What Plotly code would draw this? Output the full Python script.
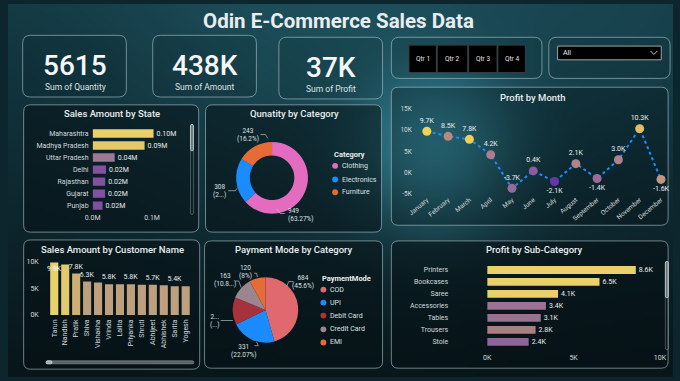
import base64, struct, zlib
import numpy as np
import plotly.graph_objects as go

W, H = 680, 381
FONT = "Roboto"
TXT = "#E9EDEF"
TICK = "#D2D9DC"

# ---------------- DATA ----------------
title = "Odin E-Commerce Sales Data"
kpi_values = [5615, 437771, 36963]
kpi_labels = ["Sum of Quantity", "Sum of Amount", "Sum of Profit"]
qtr_labels = ["Qtr 1", "Qtr 2", "Qtr 3", "Qtr 4"]
dropdown_value = "All"

states = ["Maharashtra", "Madhya Pradesh", "Uttar Pradesh", "Delhi", "Rajasthan", "Gujarat", "Punjab"]
state_amount = [102498, 87463, 37208, 22531, 21149, 21058, 16786]

categories = ["Clothing", "Electronics", "Furniture"]
category_qty = [949, 308, 243]

months = ["January", "February", "March", "April", "May", "June", "July",
          "August", "September", "October", "November", "December"]
month_profit = [9700, 8500, 7800, 4200, -3700, 400, -2100, 2100, -1400, 3000, 10300, -1600]

customers = ["Tarun", "Nandish", "Pratik", "Shiva", "Vishakha", "Vrinda", "Lalita",
             "Priyanka", "Shruti", "Abhijeet", "Abhishek", "Sarita", "Yogesh"]
customer_amount = [9900, 9500, 7800, 6300, 6100, 5800, 5800, 5800, 5700, 5700, 5600, 5400, 5400]

pay_modes = ["COD", "UPI", "Debit Card", "Credit Card", "EMI"]
pay_qty = [684, 331, 202, 163, 120]

subcats = ["Printers", "Bookcases", "Saree", "Accessories", "Tables", "Trousers", "Stole"]
subcat_profit = [8600, 6500, 4100, 3400, 3100, 2800, 2400]

# ---------------- STYLES ----------------
state_colors = ["#E9D06B", "#E3C86C", "#9B7A94", "#80529F", "#80529F", "#80529F", "#7E519F"]
cat_colors = ["#E36CC0", "#1A8CFF", "#E66C37"]
month_colors = ["#F2D24E", "#B88A7F", "#F0D052", "#AE7D8C", "#976B97", "#8C5BA0", "#6C32A9",
                "#B2838F", "#9C6B9C", "#AF7F92", "#DFBE64", "#C29482"]
month_textpos = ["top center"] * 6 + ["bottom center", "top center", "bottom center",
                                      "top center", "top center", "bottom center"]
cust_colors = ["#E8D26C", "#E0C96E", "#CDAE72"] + ["#BEA07F"] * 10
cust_label_shown = [True, False, True, True, False, True, False, True, False, True, False, True, False]
cust_textpos = ["inside"] + ["outside"] * 12
pay_colors = ["#E0686F", "#1A8CFF", "#A8323C", "#9C8590", "#E66C37"]
sub_colors = ["#E9D06B", "#E9D06B", "#E9D06B", "#9C7394", "#9A7191", "#A98080", "#8E6598"]
# label truncation (chars kept of value / percent; None = full) as Power BI clipped them
cat_trunc = [(None, None), (None, 1), (None, None)]
pay_trunc = [(None, None), (None, None), (1, 0), (None, 4), (None, None)]


def X(x):
    return x / W


def Y(y):
    return 1 - y / H


# ---------------- BACKGROUND IMAGE ----------------
bw, bh = 170, 96
ys, xs = np.mgrid[0:bh, 0:bw]
PX = (xs + 0.5) * W / bw
PY = (ys + 0.5) * H / bh
t = np.clip(PY / H, 0, 1)[..., None]
top = np.array([19, 56, 66], float)
bot = np.array([8, 21, 26], float)
img = top * (1 - t) + bot * t


def glow(cx, cy, r, col):
    d2 = ((PX - cx) ** 2 + (PY - cy) ** 2) / r ** 2
    return np.exp(-d2)[..., None] * np.array(col, float)


img += glow(330, 40, 230, [10, 24, 26])
img += glow(440, 150, 80, [30, 72, 80])
img += glow(640, 60, 120, [4, 10, 12])
img = np.clip(img, 0, 255).astype(np.uint8)


def png_uri(arr):
    h, w, _ = arr.shape
    raw = b"".join(b"\x00" + arr[i].tobytes() for i in range(h))

    def chunk(tag, data):
        c = struct.pack(">I", len(data)) + tag + data
        return c + struct.pack(">I", zlib.crc32(tag + data) & 0xFFFFFFFF)

    png = (b"\x89PNG\r\n\x1a\n" + chunk(b"IHDR", struct.pack(">IIBBBBB", w, h, 8, 2, 0, 0, 0))
           + chunk(b"IDAT", zlib.compress(raw, 9)) + chunk(b"IEND", b""))
    return "data:image/png;base64," + base64.b64encode(png).decode()


fig = go.Figure()

# ---------------- STATE BARS ----------------
fig.add_trace(go.Bar(
    x=state_amount, y=states, orientation="h", width=0.7,
    marker=dict(color=state_colors, line=dict(width=0)),
    text=[f"{v/1e6:.2f}M" for v in state_amount], textposition="outside",
    textfont=dict(size=7, color=TXT, family=FONT), constraintext="none",
    cliponaxis=False, hoverinfo="skip", xaxis="x", yaxis="y"))

# ---------------- DONUT ----------------
cx1, cy1, r1 = 270, 177.5, 36.7
fig.add_trace(go.Pie(
    labels=categories, values=category_qty, hole=0.62, sort=False, direction="clockwise",
    rotation=0, marker=dict(colors=cat_colors, line=dict(width=0)), textinfo="none",
    hoverinfo="skip", showlegend=False,
    domain=dict(x=[X(cx1 - r1), X(cx1 + r1)], y=[Y(cy1 + r1), Y(cy1 - r1)])))

# ---------------- PROFIT BY MONTH ----------------
fig.add_trace(go.Scatter(
    x=months, y=month_profit, mode="lines+markers+text",
    line=dict(color="#1A8CFF", width=2, dash="dot"),
    marker=dict(size=9, color=month_colors, line=dict(width=0)),
    text=[f"{v/1000:.1f}K" for v in month_profit], textposition=month_textpos,
    textfont=dict(size=7, color=TXT, family=FONT), cliponaxis=False,
    hoverinfo="skip", xaxis="x3", yaxis="y3"))

# ---------------- CUSTOMER BARS ----------------
fig.add_trace(go.Bar(
    x=customers, y=customer_amount, width=0.74,
    marker=dict(color=cust_colors, line=dict(width=0)),
    text=[f"{v/1000:.1f}K" if s else "" for v, s in zip(customer_amount, cust_label_shown)],
    textposition=cust_textpos, insidetextanchor="end", textangle=0,
    textfont=dict(size=7, color=TXT, family=FONT),
    insidetextfont=dict(size=7, color="#FFFFFF", family=FONT),
    outsidetextfont=dict(size=7, color=TXT, family=FONT),
    constraintext="none", cliponaxis=False, hoverinfo="skip", xaxis="x4", yaxis="y4"))

# ---------------- PAYMENT PIE ----------------
cx2, cy2, r2 = 263.3, 312.5, 33.5
fig.add_trace(go.Pie(
    labels=pay_modes, values=pay_qty, sort=False, direction="clockwise", rotation=0,
    marker=dict(colors=pay_colors, line=dict(width=0)), textinfo="none",
    hoverinfo="skip", showlegend=False,
    domain=dict(x=[X(cx2 - r2), X(cx2 + r2)], y=[Y(cy2 + r2), Y(cy2 - r2)])))

# ---------------- SUB-CATEGORY BARS ----------------
fig.add_trace(go.Bar(
    x=subcat_profit, y=subcats, orientation="h", width=0.65,
    marker=dict(color=sub_colors, line=dict(width=0)),
    text=[f"{v/1000:.1f}K" for v in subcat_profit], textposition="outside",
    textfont=dict(size=7, color=TXT, family=FONT), constraintext="none",
    cliponaxis=False, hoverinfo="skip", xaxis="x5", yaxis="y5"))

# ---------------- AXES ----------------
base_ax = dict(showgrid=False, zeroline=False, showline=False, ticks="",
               tickfont=dict(size=7, color=TICK, family=FONT), fixedrange=True)

s0, s1, sR = 86.5, 147.3, 160
state_xmax = (sR - s0) / (s1 - s0) * 100000
sy_top, sy_step = 132.3, 12.28
fig.update_layout(
    xaxis=dict(base_ax, domain=[X(s0), X(sR)], range=[0, state_xmax], anchor="y",
               tickvals=[0, 100000], ticktext=["0.0M", "0.1M"]),
    yaxis=dict(base_ax, domain=[Y(sy_top + 6.5 * sy_step), Y(sy_top - 0.5 * sy_step)],
               type="category", categoryorder="array", categoryarray=states,
               range=[6.5, -0.5], anchor="x", ticklabelstandoff=3),
)

m_first, m_last = 428.3, 667.7
m_step = (m_last - m_first) / 11
mL, mR = 417, 674
zero_y, px_per_k = 172.2, 4.357
fig.update_layout(
    xaxis3=dict(base_ax, domain=[X(mL), X(mR)], type="category",
                range=[-(m_first - mL) / m_step, 11 + (mR - m_last) / m_step],
                anchor="y3", tickangle=-40, tickfont=dict(size=6.5, color=TICK, family=FONT)),
    yaxis3=dict(base_ax, domain=[Y(zero_y + 5 * px_per_k), Y(zero_y - 15 * px_per_k)],
                range=[-5000, 15000], anchor="x3", tickvals=[-5000, 0, 5000, 10000, 15000],
                ticktext=["-5K", "0K", "5K", "10K", "15K"],
                tickfont=dict(size=6.5, color=TICK, family=FONT), ticklabelstandoff=3),
)

c_first, c_last = 47.3, 181.7
c_step = (c_last - c_first) / 12
c_zero, c_pxk = 317.7, 5.43
fig.update_layout(
    xaxis4=dict(base_ax, domain=[X(c_first - c_step / 2), X(c_last + c_step / 2)],
                type="category", range=[-0.5, 12.5], anchor="y4", tickangle=-90,
                ticklabelstandoff=2),
    yaxis4=dict(base_ax, domain=[Y(c_zero), Y(c_zero - 10.6 * c_pxk)], range=[0, 10600],
                anchor="x4", tickvals=[0, 5000, 10000], ticktext=["0K", "5K", "10K"],
                ticklabelstandoff=9),
)

b0, b10 = 490, 666.7
by_top, by_step = 271.7, 12.22
fig.update_layout(
    xaxis5=dict(base_ax, domain=[X(b0), X(b10)], range=[0, 10000], anchor="y5",
                tickvals=[0, 5000, 10000], ticktext=["0K", "5K", "10K"], ticklabelstandoff=4),
    yaxis5=dict(base_ax, domain=[Y(by_top + 6.5 * by_step), Y(by_top - 0.5 * by_step)],
                type="category", categoryorder="array", categoryarray=subcats,
                range=[6.5, -0.5], anchor="x5", ticklabelstandoff=38),
)

# ---------------- SHAPES ----------------
shapes = []


def rrect(x0, y0, x1, y1, r, line="rgba(175,198,204,0.6)", fill="rgba(0,0,0,0)", lw=1, layer="below"):
    p = (f"M {X(x0+r)},{Y(y0)} L {X(x1-r)},{Y(y0)} Q {X(x1)},{Y(y0)} {X(x1)},{Y(y0+r)} "
         f"L {X(x1)},{Y(y1-r)} Q {X(x1)},{Y(y1)} {X(x1-r)},{Y(y1)} L {X(x0+r)},{Y(y1)} "
         f"Q {X(x0)},{Y(y1)} {X(x0)},{Y(y1-r)} L {X(x0)},{Y(y0+r)} Q {X(x0)},{Y(y0)} {X(x0+r)},{Y(y0)} Z")
    shapes.append(dict(type="path", path=p, xref="paper", yref="paper",
                       line=dict(color=line, width=lw), fillcolor=fill, layer=layer))


def seg(points, color="rgba(200,205,208,0.8)", width=0.8):
    p = "M " + " L ".join(f"{X(a)},{Y(b)}" for a, b in points)
    shapes.append(dict(type="path", path=p, xref="paper", yref="paper",
                       line=dict(color=color, width=width), layer="above"))


def dot(x, y, r, color):
    shapes.append(dict(type="circle", xref="paper", yref="paper", x0=X(x - r), x1=X(x + r),
                       y0=Y(y + r), y1=Y(y - r), fillcolor=color, line=dict(width=0), layer="above"))


panel_fill = "rgba(4,14,18,0.5)"
kpi_fill = "rgba(4,14,18,0.12)"
for box in [(15, 32, 121, 95), (148, 32, 254, 95), (277, 34, 383, 97)]:
    rrect(*box, 8, fill=kpi_fill)
rrect(392, 34, 546, 76, 8, fill=kpi_fill)
rrect(553, 34, 677, 76, 8, fill=kpi_fill)
for box in [(16, 103, 195, 233), (202, 103, 382, 233), (16, 241, 196, 373),
            (201, 242, 383, 372), (392, 242, 675, 372)]:
    rrect(*box, 7, fill=panel_fill)
rrect(392, 85, 675, 226, 7, fill="rgba(4,14,18,0.32)")

qtr_x = [(410, 438), (439, 470), (471, 500), (501, 529)]
for (a, b) in qtr_x:
    shapes.append(dict(type="rect", xref="paper", yref="paper", x0=X(a), x1=X(b), y0=Y(70), y1=Y(42),
                       fillcolor="#000000", line=dict(color="#3c4448", width=0.8), layer="above"))
shapes.append(dict(type="rect", xref="paper", yref="paper", x0=X(562), x1=X(668), y0=Y(57), y1=Y(43),
                   fillcolor="#000000", line=dict(color="#9aa5a9", width=1), layer="above"))
seg([(657, 48), (660.5, 51.5), (664, 48)], color="#c8cfd2", width=1)

rrect(186.6, 123, 189.6, 215, 1.5, line="rgba(150,160,165,0.55)", lw=0.8, layer="above")
rrect(186.6, 123, 189.6, 150, 1.5, line="rgba(215,220,222,0.9)", fill="rgba(200,206,208,0.5)", lw=0.8, layer="above")
rrect(672.2, 263, 675.2, 353, 1.5, line="rgba(150,160,165,0.55)", lw=0.8, layer="above")
rrect(672.2, 263, 675.2, 300, 1.5, line="rgba(215,220,222,0.9)", fill="rgba(200,206,208,0.5)", lw=0.8, layer="above")
rrect(39, 364.5, 190, 367.5, 1.5, line="rgba(150,160,165,0.7)", fill="rgba(140,150,154,0.6)", lw=0.8, layer="above")
rrect(39, 364.5, 45, 367.5, 1.5, line="rgba(215,220,222,0.9)", fill="rgba(200,206,208,0.7)", lw=0.8, layer="above")

# ---------------- ANNOTATIONS ----------------
ann = []


def txt(x, y, s, size=7, color=TXT, xanchor="center", weight=None):
    f = dict(size=size, color=color, family=FONT)
    if weight:
        f["weight"] = weight
    ann.append(dict(x=X(x), y=Y(y), xref="paper", yref="paper", text=s, showarrow=False,
                    xanchor=xanchor, yanchor="middle", font=f, align=xanchor if xanchor != "center" else "center"))


txt(338, 17, title, size=20.5, weight=700)


def kfmt(v):
    return str(v) if v < 10000 else f"{v/1000:.0f}K"


for (cx, cy, ly), v, lab in zip([(69, 63, 85), (201, 63, 85), (330, 65, 87)], kpi_values, kpi_labels):
    txt(cx, cy, kfmt(v), size=28, color="#F4F6F7", weight=500)
    txt(cx, ly, lab, size=8.5, color="#DDE3E5")

for (a, b), q in zip(qtr_x, qtr_labels):
    txt((a + b) / 2, 56, q, size=6.5, color="#E6E6E6")
txt(565, 50, dropdown_value, size=7, color="#EEEEEE", xanchor="left")

for (x, y), s in zip([(106, 112), (292.5, 112.3), (536.7, 95), (106.7, 250.7), (291.7, 250.7), (537.5, 250.7)],
                     ["Sales Amount by State", "Qunatity by Category", "Profit by Month",
                      "Sales Amount by Customer Name", "Payment Mode by Category", "Profit by Sub-Category"]):
    txt(x, y, s, size=9.5, weight=500)


def pct(v, total):
    return f"{v/total*100:.2f}".rstrip("0").rstrip(".") + "%"


def clip(s, n):
    return s if n is None else s[:n] + "..."


def pie_label(v, total, tr):
    nv, npct = tr
    return f"{clip(str(v), nv)}<br>({clip(pct(v, total), npct)})"


cat_total = sum(category_qty)
cat_lab_pos = [(284, 215.5, "left"), (216, 191.3, "center"), (245, 133.8, "center")]
for v, tr, (x, y, anc) in zip(category_qty, cat_trunc, cat_lab_pos):
    txt(x, y, pie_label(v, cat_total, tr), size=6.5, color="#DDE2E4", xanchor=anc)
seg([(275, 209.3), (278.3, 214), (283, 214)])
seg([(225, 190.7), (232.5, 190.7), (234.3, 188.2)])
seg([(258.3, 133.3), (263.3, 133.3), (265.7, 137.3)])

txt(331.5, 154, "Category", size=7.5, weight=700, xanchor="left")
for yy, lab, col in zip([165.3, 179.3, 192.3], categories, cat_colors):
    dot(334.5, yy, 3, col)
    txt(339, yy, lab, size=7, color="#DDE2E4", xanchor="left")

pay_total = sum(pay_qty)
pay_lab_pos = [(301.5, 283.5, "center"), (241, 354, "center"), (211.5, 323.3, "center"),
               (222, 282.2, "center"), (243, 274.2, "center")]
for v, tr, (x, y, anc) in zip(pay_qty, pay_trunc, pay_lab_pos):
    txt(x, y, pie_label(v, pay_total, tr), size=6.5, color="#DDE2E4", xanchor=anc)
seg([(292, 283.5), (287, 283.5), (285, 288.5)])
seg([(252, 349), (256, 349), (254, 345)])
seg([(217.5, 323.3), (230, 323.3)])
seg([(232.5, 283), (236, 283), (238.3, 289.5)])
seg([(251.5, 275), (254.3, 275), (255, 279)])

txt(319, 280, "PaymentMode", size=7.5, weight=700, xanchor="left")
for yy, lab, col in zip([291.7, 305, 318.3, 332.3, 345.7], pay_modes, pay_colors):
    dot(322.5, yy, 3, col)
    txt(327, yy, lab, size=7, color="#DDE2E4", xanchor="left")

fig.update_layout(
    width=W, height=H, margin=dict(l=0, r=0, t=0, b=0), autosize=False,
    paper_bgcolor="#0d252c", plot_bgcolor="rgba(0,0,0,0)", showlegend=False,
    font=dict(family=FONT, color=TXT),
    images=[dict(source=png_uri(img), xref="paper", yref="paper", x=0, y=1, sizex=1, sizey=1,
                 sizing="stretch", xanchor="left", yanchor="top", layer="below")],
    shapes=shapes, annotations=ann,
)

fig.write_html("out.html", config=dict(displayModeBar=False),
               post_script="document.body.style.margin='0';document.body.style.overflow='hidden';")
